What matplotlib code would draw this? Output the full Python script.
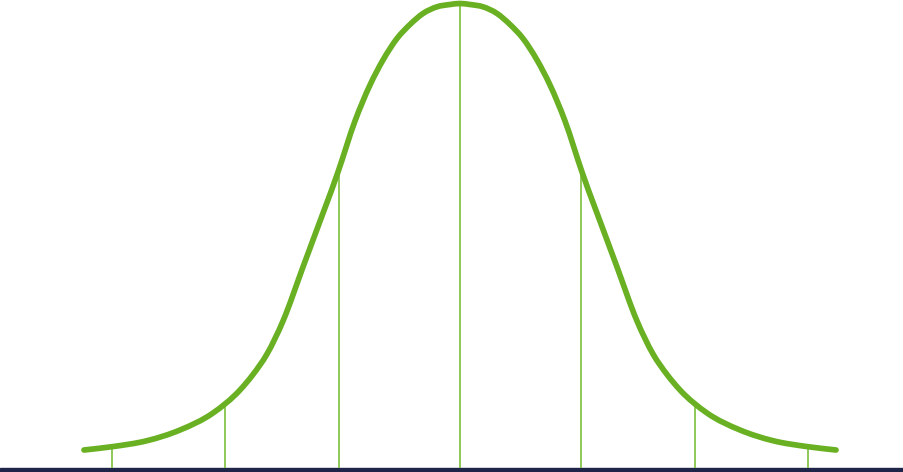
import numpy as np
import matplotlib
matplotlib.use("Agg")
import matplotlib.pyplot as plt
from matplotlib.path import Path
from matplotlib.patches import PathPatch

# Bell curve (left half: distance from centre, height above bottom edge)
center_x = 460
half_offsets = [376, 348, 313, 280, 247, 220, 207, 193, 177, 157, 147, 122,
                105, 90, 77, 63, 50, 37, 23, 10, 0]
half_heights = [22, 25.3, 31.3, 42, 59, 82, 97.5, 118, 151, 205, 232, 300,
                351, 387, 412, 433.5, 447.5, 458.5, 465.2, 467.5, 468.5]
# Positions of the standard-deviation markers (distance from centre)
sigma_offsets = [-348, -235, -121, 0, 121, 235, 348]

W, H = 904, 472
curve_color = "#69b023"
marker_color = "#7bbf3c"
base_color = "#1f2449"

off = np.array(half_offsets, dtype=float)
hts = np.array(half_heights, dtype=float)
xs = np.concatenate([center_x - off, (center_x + off[::-1])[1:]])
ys = np.concatenate([hts, hts[::-1][1:]])

# smooth path through the traced points (cubic Hermite segments drawn as Bezier curves)
n = len(xs)
hw = np.diff(xs)
d = np.diff(ys) / hw
m = np.zeros(n)
m[0], m[-1] = d[0], d[-1]
for i in range(1, n - 1):
    m[i] = (hw[i - 1] * d[i] + hw[i] * d[i - 1]) / (hw[i - 1] + hw[i])
verts = [(xs[0], ys[0])]
codes = [Path.MOVETO]
for i in range(n - 1):
    t = hw[i] / 3.0
    verts += [(xs[i] + t, ys[i] + m[i] * t),
              (xs[i + 1] - t, ys[i + 1] - m[i + 1] * t),
              (xs[i + 1], ys[i + 1])]
    codes += [Path.CURVE4] * 3
curve_path = Path(verts, codes)

fig = plt.figure(figsize=(W / 100, H / 100), dpi=100)
ax = fig.add_axes([0, 0, 1, 1])
ax.set_xlim(0, W)
ax.set_ylim(0, H)
ax.axis("off")

ax.axhspan(0, 4.5, color=base_color, zorder=1)

for s in sigma_offsets:
    x = center_x + s
    top = np.interp(x, xs, ys)
    ax.plot([x, x], [4.5, top], color=marker_color, lw=1.2, zorder=2,
            solid_capstyle="butt")

ax.add_patch(PathPatch(curve_path, facecolor="none", edgecolor=curve_color,
                       lw=4.1, capstyle="round", joinstyle="round", zorder=3))

fig.savefig("out.png", dpi=100, facecolor="white")
